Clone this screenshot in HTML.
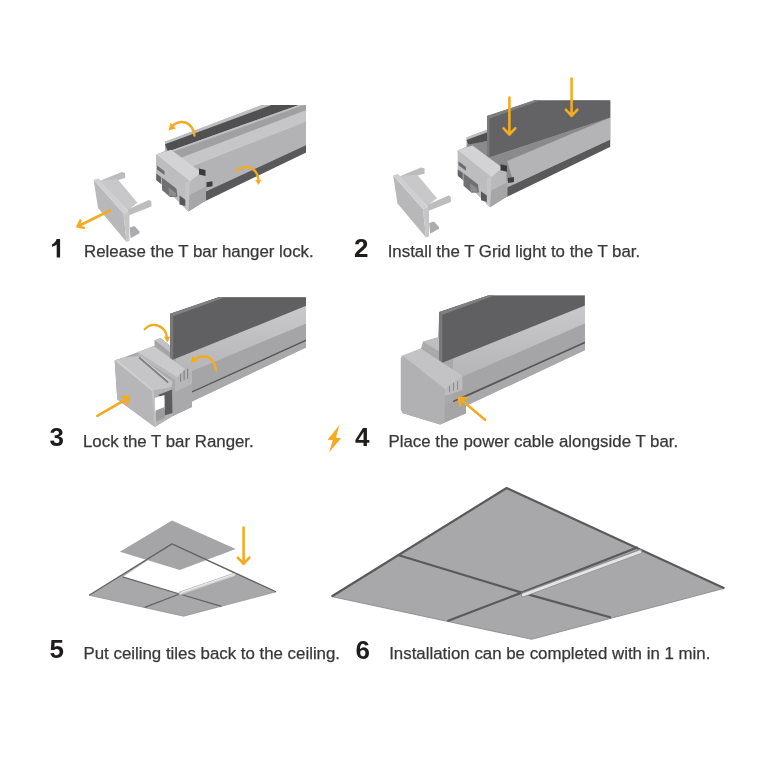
<!DOCTYPE html>
<html><head><meta charset="utf-8"><style>
html,body{margin:0;padding:0;background:#fff;}
body{width:768px;height:768px;overflow:hidden;font-family:"Liberation Sans",sans-serif;}
svg{display:block;filter:blur(0.35px);}
</style></head><body><svg width="768" height="768" viewBox="0 0 768 768"><defs><linearGradient id="gl" x1="0" y1="0" x2="0" y2="1"><stop offset="0" stop-color="#c9c9cb"/><stop offset="1" stop-color="#b4b4b6"/></linearGradient></defs><polygon points="156.30,154.60 165.00,151.00 165.00,141.81 261.81,105.00 306.00,105.00 306.00,152.40 206.00,200.70 206.00,200.50 188.50,211.50 156.30,179.00" fill="#adadaf" /><clipPath id="c1"><rect x="0" y="105" width="306" height="200"/></clipPath><g clip-path="url(#c1)"><polygon points="165.00,141.81 306.00,88.20 306.00,92.30 165.00,144.18" fill="#bdbdbf" /><polygon points="165.00,144.18 306.00,92.30 306.00,102.50 168.00,151.71" fill="#505052" /><polygon points="168.00,151.71 306.00,102.50 306.00,110.20 172.00,161.15" fill="#a0a0a2" /><polygon points="169.00,151.35 306.00,102.50 306.00,104.30 170.00,152.80" fill="#c0c0c2" /><polygon points="172.00,161.15 306.00,110.20 306.00,122.00 190.00,167.42" fill="#c6c6c8" /><polygon points="200.00,163.50 306.00,122.00 306.00,145.20 200.00,194.30" fill="#b3b3b5" /><polygon points="200.00,194.30 306.00,145.20 306.00,152.40 200.00,203.60" fill="#59595b" /></g><polygon points="190.00,181.50 201.50,172.50 205.00,173.50 205.00,195.00 188.50,211.50" fill="#b9b9bb" /><polygon points="188.50,195.50 206.00,186.50 206.00,200.50 188.50,211.50" fill="#a6a6a8" /><polygon points="156.30,154.60 190.00,181.50 188.50,211.50 156.30,179.00" fill="#bdbdbf" /><polygon points="157.00,165.50 164.50,171.20 164.50,175.00 157.00,169.50" fill="#6c6c6e" /><polygon points="156.30,173.50 161.20,177.30 161.20,184.00 156.30,180.30" fill="#646466" /><polygon points="162.00,177.50 176.50,188.80 177.50,196.70 170.00,197.00 162.00,190.00" fill="#707072" /><polygon points="168.50,187.50 176.00,193.00 176.00,196.00 169.00,196.00" fill="#8c8c8e" /><polygon points="179.50,195.50 187.00,201.00 187.00,206.50 179.50,204.50" fill="#58585a" /><polygon points="185.30,182.00 190.00,181.50 188.50,211.50 185.30,209.00" fill="#c4c4c6" /><polygon points="156.30,154.60 171.00,149.80 201.30,172.20 190.00,181.50" fill="#d3d3d5" /><polygon points="199.00,168.50 205.50,170.00 205.50,176.00 199.00,174.50" fill="#3a3a3c" /><polygon points="206.50,182.30 212.50,181.20 212.50,186.20 206.50,187.30" fill="#3e3e40" /><polygon points="101.90,179.90 121.70,172.00 125.10,173.00 125.10,177.90 116.70,180.40 103.00,182.50" fill="#bcbcbe" /><polygon points="99.00,180.50 117.70,179.30 137.50,202.70 127.50,210.50" fill="#c8c8ca" /><polygon points="127.60,209.60 149.40,199.70 151.40,201.70 151.40,206.60 128.60,215.50" fill="#bdbdbf" /><polygon points="129.60,227.40 134.50,225.90 139.50,231.40 139.50,233.30 130.60,238.30" fill="#acacae" /><polygon points="93.60,179.80 123.50,213.50 126.50,242.00 98.00,208.00" fill="#b8b8ba" /><polygon points="93.60,179.80 98.50,178.60 128.30,211.50 123.50,213.50" fill="#cfcfd1" /><polygon points="123.50,213.50 128.30,211.50 129.50,213.50 129.50,241.00 126.50,242.00" fill="#c6c6c8" /><path d="M110.0,210.5 L77.5,226.5 M80.4,220.7 L77.5,226.5 L83.9,227.7" fill="none" stroke="#f4ab22" stroke-width="2.6" stroke-linecap="round" stroke-linejoin="round"/><path d="M194.4,135.5 C193.5,126 187,121.5 181,122 C177,122.3 174.5,124 172.5,126" fill="none" stroke="#f4ab22" stroke-width="2.4" stroke-linecap="round"/><polygon points="168.50,130.50 170.50,122.80 176.00,128.50" fill="#f4ab22" /><path d="M236.5,170.4 C240,167.5 244,166.8 248,167.3 C254,168.3 258,173 258.3,179" fill="none" stroke="#f4ab22" stroke-width="2.4" stroke-linecap="round"/><polygon points="255.30,179.80 261.50,179.80 258.40,185.00" fill="#f4ab22" /><polygon points="457.80,150.30 466.50,146.70 466.50,137.51 563.31,100.70 610.30,100.70 610.30,146.75 507.50,196.40 507.50,196.20 490.00,207.20 457.80,174.70" fill="#adadaf" /><clipPath id="c2"><rect x="0" y="100.7" width="610.3" height="200"/></clipPath><g clip-path="url(#c2)"><polygon points="466.50,137.51 610.30,82.84 610.30,86.97 466.50,139.88" fill="#bdbdbf" /><polygon points="466.50,139.88 610.30,86.97 610.30,97.20 469.50,147.41" fill="#505052" /><polygon points="469.50,147.41 610.30,97.20 610.30,104.84 473.50,156.85" fill="#a0a0a2" /><polygon points="470.50,147.05 610.30,97.20 610.30,99.00 471.50,148.50" fill="#c0c0c2" /><polygon points="473.50,156.85 610.30,104.84 610.30,116.60 491.50,163.12" fill="#c6c6c8" /><polygon points="501.50,159.20 610.30,116.60 610.30,139.60 501.50,190.00" fill="#b3b3b5" /><polygon points="501.50,190.00 610.30,139.60 610.30,146.75 501.50,199.30" fill="#59595b" /></g><polygon points="507.20,160.90 610.30,117.60 610.30,139.60 513.40,184.49" fill="#b4b4b6" /><polygon points="466.00,145.00 487.00,141.00 487.00,158.30 610.30,117.60 507.20,160.90 513.40,182.00 500.00,180.00" fill="#8a8a8c" /><polygon points="487.00,116.10 534.50,100.30 610.30,100.30 610.30,117.60 487.00,158.30" fill="#636365" /><polygon points="487.00,116.10 534.50,100.30 540.00,100.30 537.00,101.50 490.00,118.60" fill="#7e7e80" /><polygon points="487.00,116.10 489.50,117.00 489.50,158.60 487.00,158.30" fill="#7a7a7c" /><polygon points="491.50,177.20 503.00,168.20 506.50,169.20 506.50,190.70 490.00,207.20" fill="#b9b9bb" /><polygon points="490.00,191.20 507.50,182.20 507.50,196.20 490.00,207.20" fill="#a6a6a8" /><polygon points="457.80,150.30 491.50,177.20 490.00,207.20 457.80,174.70" fill="#bdbdbf" /><polygon points="458.50,161.20 466.00,166.90 466.00,170.70 458.50,165.20" fill="#6c6c6e" /><polygon points="457.80,169.20 462.70,173.00 462.70,179.70 457.80,176.00" fill="#646466" /><polygon points="463.50,173.20 478.00,184.50 479.00,192.40 471.50,192.70 463.50,185.70" fill="#707072" /><polygon points="470.00,183.20 477.50,188.70 477.50,191.70 470.50,191.70" fill="#8c8c8e" /><polygon points="481.00,191.20 488.50,196.70 488.50,202.20 481.00,200.20" fill="#58585a" /><polygon points="486.80,177.70 491.50,177.20 490.00,207.20 486.80,204.70" fill="#c4c4c6" /><polygon points="457.80,150.30 472.50,145.50 502.80,167.90 491.50,177.20" fill="#d3d3d5" /><polygon points="500.50,164.20 507.00,165.70 507.00,171.70 500.50,170.20" fill="#3a3a3c" /><polygon points="508.00,178.00 514.00,176.90 514.00,181.90 508.00,183.00" fill="#3e3e40" /><polygon points="401.40,175.40 421.20,167.50 424.60,168.50 424.60,173.40 416.20,175.90 402.50,178.00" fill="#bcbcbe" /><polygon points="398.50,176.00 417.20,174.80 437.00,198.20 427.00,206.00" fill="#c8c8ca" /><polygon points="427.10,205.10 448.90,195.20 450.90,197.20 450.90,202.10 428.10,211.00" fill="#bdbdbf" /><polygon points="429.10,222.90 434.00,221.40 439.00,226.90 439.00,228.80 430.10,233.80" fill="#acacae" /><polygon points="393.10,175.30 423.00,209.00 426.00,237.50 397.50,203.50" fill="#b8b8ba" /><polygon points="393.10,175.30 398.00,174.10 427.80,207.00 423.00,209.00" fill="#cfcfd1" /><polygon points="423.00,209.00 427.80,207.00 429.00,209.00 429.00,236.50 426.00,237.50" fill="#c6c6c8" /><path d="M509.4,97.5 L509.4,134.5 M503.6,128.3 L509.4,134.5 L515.2,128.3" fill="none" stroke="#f4ab22" stroke-width="2.6" stroke-linecap="round" stroke-linejoin="round"/><path d="M571.6,78.5 L571.6,115.8 M565.8,109.6 L571.6,115.8 L577.4,109.6" fill="none" stroke="#f4ab22" stroke-width="2.6" stroke-linecap="round" stroke-linejoin="round"/><polygon points="114.60,360.20 123.40,357.60 137.60,352.30 154.70,345.50 154.70,340.20 160.60,338.10 170.20,345.80 170.20,313.70 218.00,297.20 306.00,297.20 306.00,347.40 192.00,401.39 192.00,407.00 173.00,416.00 154.70,426.70 117.30,399.40" fill="#a9a9ab" /><polygon points="154.70,340.20 160.60,338.10 171.00,346.50 171.00,353.30" fill="#c2c2c4" /><polygon points="154.70,340.20 171.00,353.30 171.00,357.00 154.70,344.30" fill="#a3a3a5" /><polygon points="176.00,358.41 306.00,305.80 306.00,323.70 176.00,378.03" fill="url(#gl)" /><polygon points="176.00,378.03 306.00,323.70 306.00,339.60 176.00,398.47" fill="#a5a5a7" /><polygon points="176.00,398.47 306.00,339.60 306.00,341.20 176.00,400.07" fill="#58585a" /><polygon points="176.00,400.07 306.00,341.20 306.00,347.40 176.00,408.97" fill="#a9a9ab" /><polygon points="170.20,313.70 218.73,297.20 306.00,297.20 306.00,305.80 170.20,360.76" fill="#606062" /><polygon points="170.20,313.70 218.73,297.20 224.73,297.20 221.73,298.40 173.20,316.30" fill="#808082" /><polygon points="170.20,313.70 173.20,314.70 173.20,359.55 170.20,360.76" fill="#79797b" /><polygon points="172.00,386.00 192.00,376.00 192.00,407.00 173.00,416.00" fill="#a9a9ab" /><polygon points="175.00,372.00 192.00,364.00 192.00,384.00 175.00,392.00" fill="#b7b7b9" /><polygon points="180.00,372.00 181.20,371.50 181.20,381.50 180.00,382.00" fill="#858587" /><polygon points="183.50,370.50 184.70,370.00 184.70,380.00 183.50,380.50" fill="#858587" /><polygon points="187.00,369.00 188.20,368.50 188.20,378.50 187.00,379.00" fill="#858587" /><polygon points="137.60,352.30 153.75,346.00 185.00,369.00 177.00,377.50" fill="#cacacc" /><polygon points="137.60,352.30 177.00,377.50 177.00,381.00 137.60,356.00" fill="#b9b9bb" /><polygon points="151.70,390.80 171.50,387.00 173.00,415.80 154.80,427.00" fill="#b3b3b5" /><polygon points="158.00,395.00 172.00,389.50 172.50,413.00 164.50,415.50 164.50,399.00" fill="#5c5c5e" /><polygon points="154.80,398.00 164.50,395.00 164.50,409.50 154.80,412.50" fill="#ffffff" /><polygon points="155.70,410.50 164.50,407.00 164.50,418.00 155.70,421.40" fill="#9c9c9e" /><polygon points="114.70,360.60 124.00,357.50 137.60,356.00 172.50,381.50 171.50,387.00 151.70,390.80" fill="#c5c5c7" /><path d="M139.2,357.5 L168.3,382.5" stroke="#7e7e80" stroke-width="1.7" fill="none"/><path d="M141.0,357.2 L170.0,382.0" stroke="#d4d4d6" stroke-width="0.9" fill="none"/><polygon points="114.70,360.60 151.70,390.80 154.80,427.00 117.30,399.40" fill="#b6b6b8" /><polygon points="114.70,360.60 117.50,359.90 153.80,390.20 151.70,390.80" fill="#cfcfd1" /><polygon points="151.70,390.80 153.80,390.20 156.50,426.20 154.80,427.00" fill="#c4c4c6" /><path d="M97.3,415.8 L129.2,397.5 M126.5,403.9 L129.2,397.5 L122.3,396.6" fill="none" stroke="#f4ab22" stroke-width="2.6" stroke-linecap="round" stroke-linejoin="round"/><path d="M144.7,329.2 C148,325.5 153,324.2 157.5,325.5 C162,327 166,331 167,337" fill="none" stroke="#f4ab22" stroke-width="2.4" stroke-linecap="round"/><polygon points="164.00,336.50 170.30,336.80 167.20,342.50" fill="#f4ab22" /><path d="M215.8,370.2 C215.5,362 210.5,357 204.5,356.5 C200,356.2 197,357.5 194.5,359.5" fill="none" stroke="#f4ab22" stroke-width="2.4" stroke-linecap="round"/><polygon points="190.50,363.00 192.50,355.80 197.50,361.20" fill="#f4ab22" /><polygon points="400.90,358.00 403.00,356.00 421.00,348.50 423.00,341.70 438.00,337.20 439.30,312.10 488.12,295.50 584.80,295.50 584.80,350.20 466.00,405.87 466.00,413.30 440.00,424.40 402.80,413.30 400.90,410.00" fill="#a9a9ab" /><polygon points="423.00,341.70 438.00,337.20 440.00,338.00 440.00,355.00 423.60,346.30" fill="#bebec0" /><polygon points="423.00,341.70 423.60,346.30 440.00,355.00 440.00,352.00" fill="#a9a9ab" /><polygon points="453.00,358.53 585.00,305.52 585.00,323.51 453.00,381.00" fill="url(#gl)" /><polygon points="453.00,381.00 585.00,323.51 585.00,341.51 453.00,400.73" fill="#a5a5a7" /><polygon points="453.00,400.73 585.00,341.51 585.00,343.51 453.00,402.96" fill="#58585a" /><polygon points="453.00,402.96 585.00,343.51 585.00,350.11 453.00,411.97" fill="#a9a9ab" /><polygon points="439.30,312.10 488.12,295.50 584.80,295.50 584.80,305.60 439.30,364.03" fill="#606062" /><polygon points="439.30,312.10 488.12,295.50 494.12,295.50 491.12,296.70 442.30,314.70" fill="#808082" /><polygon points="439.30,312.10 442.30,313.10 442.30,362.82 439.30,364.03" fill="#79797b" /><polygon points="439.00,408.00 466.00,397.00 466.00,413.30 440.00,424.40" fill="#a5a5a7" /><polygon points="445.00,378.00 462.50,375.50 462.50,390.00 445.00,396.00" fill="#bcbcbe" /><polygon points="449.00,384.00 449.90,383.60 449.90,392.00 449.00,392.50" fill="#8a8a8c" /><polygon points="453.00,382.80 453.90,382.40 453.90,390.80 453.00,391.30" fill="#8a8a8c" /><polygon points="457.00,381.60 457.90,381.20 457.90,389.60 457.00,390.10" fill="#8a8a8c" /><polygon points="400.90,356.00 421.00,348.50 462.00,375.50 445.00,389.20" fill="#c3c3c5" /><polygon points="400.90,358.00 403.00,356.00 445.10,389.20 444.50,421.10 440.00,424.40 402.80,413.30 400.90,410.00" fill="#b1b1b3" /><path d="M485.0,419.8 L458.8,397.7 M466.8,398.1 L458.8,397.7 L460.5,405.5" fill="none" stroke="#f4ab22" stroke-width="2.6" stroke-linecap="round" stroke-linejoin="round"/><polygon points="172.00,543.90 276.10,591.80 183.50,616.20 89.10,595.20" fill="#a8a8aa" /><polygon points="172.00,543.90 235.70,574.30 179.60,594.00 122.50,576.90" fill="#ffffff" /><polygon points="172.00,520.40 235.70,549.10 179.80,569.90 119.90,551.70" fill="#a5a5a7" /><path d="M276.1,591.8 L183.5,616.2 L89.1,595.2" stroke="#959597" stroke-width="0.8" fill="none"/><path d="M89.1,595.2 L172,543.9 L276.1,591.8" stroke="#626264" stroke-width="1.25" fill="none" stroke-linejoin="round"/><path d="M122.5,576.9 L179.6,594.0 L221.4,606.4 M144.6,607.4 L179.6,594.0 L235.7,574.3" stroke="#626264" stroke-width="1.25" fill="none"/><path d="M180.4,593.4 L234.2,574.9" stroke="#a9a9ab" stroke-width="3.8" fill="none" stroke-linecap="round"/><path d="M180.4,593.4 L234.2,574.9" stroke="#d6d6d8" stroke-width="2.4" fill="none" stroke-linecap="round"/><path d="M180.79999999999998,592.4 L234.2,573.9" stroke="#f2f2f4" stroke-width="0.9" fill="none"/><path d="M243.6,527.5 L243.6,563.8 M237.8,557.6 L243.6,563.8 L249.4,557.6" fill="none" stroke="#f4ab22" stroke-width="2.6" stroke-linecap="round" stroke-linejoin="round"/><polygon points="506.60,488.00 724.30,588.20 531.70,639.30 331.60,596.50" fill="#a8a8aa" /><path d="M724.3,588.2 L531.7,639.3 L331.6,596.5" stroke="#959597" stroke-width="1.1" fill="none"/><path d="M331.6,596.5 L506.6,488 L724.3,588.2" stroke="#5a5a5c" stroke-width="2.2" fill="none" stroke-linejoin="round"/><path d="M398.8,555.3 L521.8,592.6 L611,617.5 M447.5,621 L521.8,592.6 L637.9,547.2" stroke="#5a5a5c" stroke-width="2.2" fill="none"/><path d="M523.2,594.7 L639.8,551.6" stroke="#8e8e90" stroke-width="4.8" fill="none" stroke-linecap="round"/><path d="M523.4,594.9 L639.8,551.9" stroke="#e4e4e6" stroke-width="3.0" fill="none" stroke-linecap="round"/><path d="M56.6,239.1 L60.1,239.1 L60.1,257.6 L56.7,257.6 L56.7,244.6 C55.6,245.6 54,246.4 52.1,246.9 L52.1,244.2 C54.3,243.5 56,241.8 56.6,239.1 Z" fill="#1f1c1c"/><text x="84.0" y="257.4" font-family="Liberation Sans" font-size="16.85" fill="#38383a" stroke="#38383a" stroke-width="0.25">Release the T bar hanger lock.</text><text x="354.0" y="257.4" font-family="Liberation Sans" font-weight="bold" font-size="26" fill="#1f1c1c">2</text><text x="387.7" y="257.4" font-family="Liberation Sans" font-size="16.85" fill="#38383a" stroke="#38383a" stroke-width="0.25">Install the T Grid light to the T bar.</text><text x="49.5" y="446.0" font-family="Liberation Sans" font-weight="bold" font-size="26" fill="#1f1c1c">3</text><text x="83.0" y="446.7" font-family="Liberation Sans" font-size="16.85" fill="#38383a" stroke="#38383a" stroke-width="0.25">Lock the T bar Ranger.</text><text x="355.0" y="445.8" font-family="Liberation Sans" font-weight="bold" font-size="26" fill="#1f1c1c">4</text><text x="388.5" y="446.7" font-family="Liberation Sans" font-size="16.85" fill="#38383a" stroke="#38383a" stroke-width="0.25">Place the power cable alongside T bar.</text><text x="49.5" y="658.3" font-family="Liberation Sans" font-weight="bold" font-size="26" fill="#1f1c1c">5</text><text x="83.5" y="658.7" font-family="Liberation Sans" font-size="16.85" fill="#38383a" stroke="#38383a" stroke-width="0.25">Put ceiling tiles back to the ceiling.</text><text x="355.5" y="658.7" font-family="Liberation Sans" font-weight="bold" font-size="26" fill="#1f1c1c">6</text><text x="389.2" y="658.7" font-family="Liberation Sans" font-size="16.85" fill="#38383a" stroke="#38383a" stroke-width="0.25">Installation can be completed with in 1 min.</text><polygon points="339.40,424.90 327.60,439.80 332.80,440.20 329.00,452.60 341.10,438.20 336.00,437.80" fill="#f4ab22" /></svg></body></html>
